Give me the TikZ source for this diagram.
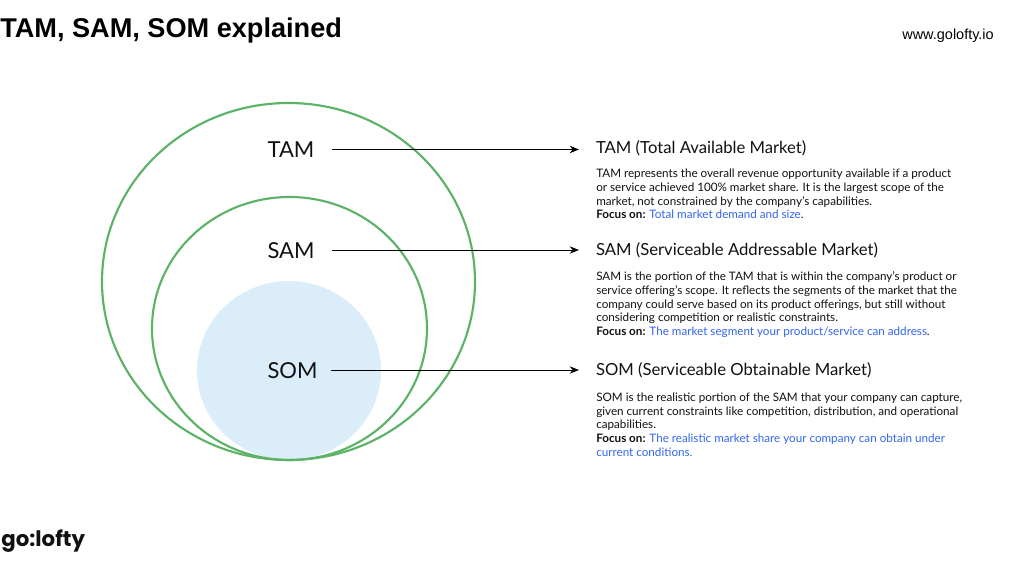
\documentclass[tikz,border=0pt]{standalone}
\usepackage{fontspec}
\usepackage{xcolor}
\usetikzlibrary{arrows.meta}
\setmainfont{Lato}
\newfontfamily\titlefont{Liberation Sans}
\newfontfamily\logofont{Poppins}
\definecolor{ringgreen}{HTML}{5CB266}
\definecolor{somfill}{HTML}{DAEDF9}
\definecolor{focusblue}{HTML}{3366EE}
\definecolor{inkblack}{HTML}{111111}

\begin{document}
\begin{tikzpicture}[%
        x=0.75pt,y=-0.75pt,
        ring/.style={draw=ringgreen,line width=1.6pt},
        market/.style={
            font=\fontsize{16.5}{18}\selectfont,
            text=inkblack,
            inner sep=0pt,
            outer xsep=13.5pt
          },
        heading/.style={
            anchor=west,
            font=\fontsize{12.5}{14}\selectfont,
            text=inkblack,
            inner sep=0pt,
            outer xsep=12.75pt
          },
        body/.style={
            anchor=north west,
            align=left,
            font=\fontsize{8.75}{10.28}\selectfont,
            text=inkblack,
            inner sep=0pt
          },
        pointer/.style={-{Stealth[length=7pt,width=5.5pt]},line width=0.7pt,black}
      ]
      \useasboundingbox (0,0) rectangle (1024,570);

      % 見出し
      \node[anchor=west,inner sep=0pt,font=\titlefont\bfseries\fontsize{20.35}{22}\selectfont] (title) at (0,30) {TAM, SAM, SOM explained};
      \node[anchor=east,inner sep=0pt,font=\titlefont\fontsize{10.85}{12}\selectfont] (site) at (994,35.5) {www.golofty.io};
      \node[anchor=west,inner sep=0pt,font=\logofont\bfseries\fontsize{16}{18}\selectfont,text=inkblack] (logo) at (1,541) {go:lofty};

      % 円の描画
      \fill[somfill] (289,370.5) ellipse [x radius=92,y radius=89.5];
      \draw[ring] (289.5,328.5) ellipse [x radius=137.5,y radius=131.5];
      \draw[ring] (288.5,281.5) ellipse [x radius=186.5,y radius=178.5];

      % 左の名前
      \node[market] (tam) at (291,149.5) {TAM};
      \node[market] (sam) at (291,250.5) {SAM};
      \node[market,outer xsep=10.5pt] (som) at (292.5,370.5) {SOM};

      % 右の見出し
      \node[heading] (tam_head) at (579,148.5) {TAM (Total Available Market)};
      \node[heading] (sam_head) at (579,250.5) {SAM (Serviceable Addressable Market)};
      \node[heading] (som_head) at (579,370.5) {SOM (Serviceable Obtainable Market)};

      % 本文
      \node[body] (tam_body) at (596,169) {TAM represents the overall revenue opportunity available if a product\\
        or service achieved 100\% market share. It is the largest scope of the\\
        market, not constrained by the company’s capabilities.\\
        \textbf{Focus on:} \textcolor{focusblue}{Total market demand and size}.};
      \node[body] (sam_body) at (596,271.5) {SAM is the portion of the TAM that is within the company's product or\\
        service offering's scope. It reflects the segments of the market that the\\
        company could serve based on its product offerings, but still without\\
        considering competition or realistic constraints.\\
        \textbf{Focus on:} \textcolor{focusblue}{The market segment your product/service can address}.};
      \node[body] (som_body) at (596,392.5) {SOM is the realistic portion of the SAM that your company can capture,\\
        given current constraints like competition, distribution, and operational\\
        capabilities.\\
        \textbf{Focus on:} \textcolor{focusblue}{The realistic market share your company can obtain under}\\
        \textcolor{focusblue}{current conditions.}};

      % 矢印
      \draw[pointer] (tam.east |- 0,149.5) -- (tam_head.west |- 0,149.5);
      \draw[pointer] (sam.east |- 0,250) -- (sam_head.west |- 0,250);
      \draw[pointer] (som.east |- 0,370) -- (som_head.west |- 0,370);

    \end{tikzpicture}
\end{document}
